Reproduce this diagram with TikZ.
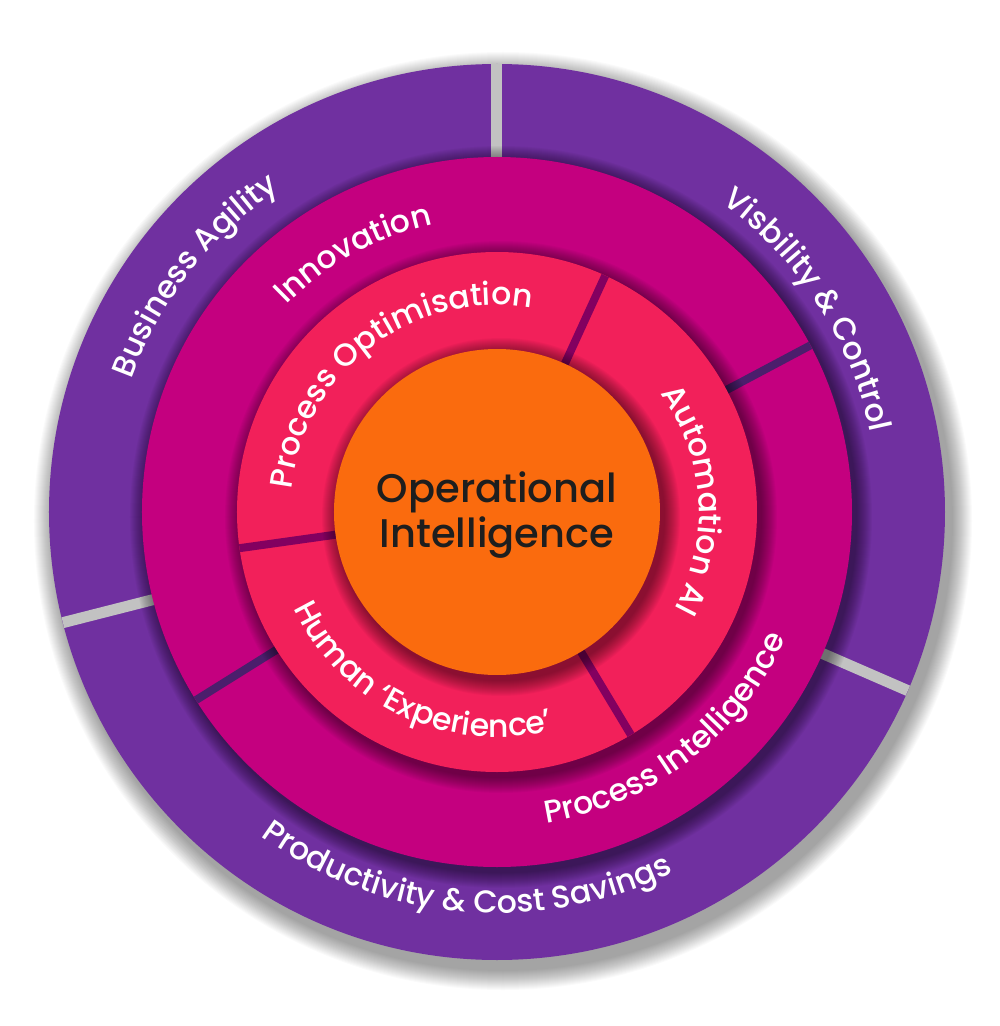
\documentclass[tikz,border=0pt]{standalone}
\usepackage{fontspec}
\setmainfont{Poppins}
\IfFontExistsTF{Poppins Medium}
  {\newfontfamily\medfam{Poppins Medium}}
  {\newfontfamily\medfam{Poppins}[FakeBold=1]}
\usetikzlibrary{decorations.text}
\definecolor{cpurple}{HTML}{7030A0}
\definecolor{cmagenta}{HTML}{C4007F}
\definecolor{cpink}{HTML}{F2205A}
\definecolor{corange}{HTML}{FA6B0E}
\definecolor{cgapgrey}{HTML}{C2C2C2}
\definecolor{cgappurple}{HTML}{4B1E6C}
\definecolor{cgapmag}{HTML}{830060}
\definecolor{ctext}{HTML}{1E1E1E}
\newcommand\ringfont{\medfam\fontsize{31.5}{31.5}\selectfont}
\begin{document}
\begin{tikzpicture}[x=1pt,y=1pt,
  ringtext/.style={decorate, decoration={text along path, text align=center,
    text color=white, text={|\ringfont|#1}}},
  gapline/.style={line width=#1}]
\useasboundingbox (-497,-514) rectangle (503,512);
\fill[white] (-497,-514) rectangle (503,512);
% drop shadow of the whole disc
\foreach \k in {0,...,19} \fill[black,opacity=0.02] (6,-9) circle ({449+20-\k});
% outer purple ring
\fill[cpurple] (0,0) circle (448);
\foreach \a in {90,194.3,336.5} \draw[cgapgrey, gapline=11] (\a:350) -- (\a:448);
% shadow of magenta ring
\foreach \k in {0,...,15} \fill[black,opacity=0.03] (4,-5) circle ({355+16-\k});
\fill[cmagenta] (0,0) circle (355);
\foreach \a in {28,212} \draw[cgappurple, gapline=8] (\a:255) -- (\a:355);
% shadow of pink ring
\foreach \k in {0,...,15} \fill[black,opacity=0.03] (4,-5) circle ({260+16-\k});
\fill[cpink] (0,0) circle (260);
\foreach \a in {65.4,188,301} \draw[cgapmag, gapline=8] (\a:160) -- (\a:260);
% shadow of orange centre
\foreach \k in {0,...,15} \fill[black,opacity=0.03] (4,-5) circle ({163+16-\k});
\fill[corange] (0,0) circle (163);
% centre label
\node[font=\medfam\fontsize{40}{45}\selectfont, text=ctext, align=center] (centre) at (0,-3) {Operational\\Intelligence};
% ring labels
\path[ringtext={Business Agility}] (222:389) arc[start angle=222, end angle=62, radius=389];
\path[ringtext={Visbility {\&} Control}] (113:382) arc[start angle=113, end angle=-47, radius=382];
\path[ringtext={Productivity {\&} Cost Savings}] (185:401) arc[start angle=185, end angle=345, radius=401];
\path[ringtext={Innovation}] (199:295) arc[start angle=199, end angle=39, radius=295];
\path[ringtext={Process Intelligence}] (227.7:315) arc[start angle=227.7, end angle=387.7, radius=315];
\path[ringtext={Process Optimisation}] (207:207) arc[start angle=207, end angle=47, radius=207];
\path[ringtext={Automation AI}] (83.7:202) arc[start angle=83.7, end angle=-76.3, radius=202];
\path[ringtext={Human ‘Experience’}] (165:225) arc[start angle=165, end angle=325, radius=225];
\end{tikzpicture}
\end{document}
